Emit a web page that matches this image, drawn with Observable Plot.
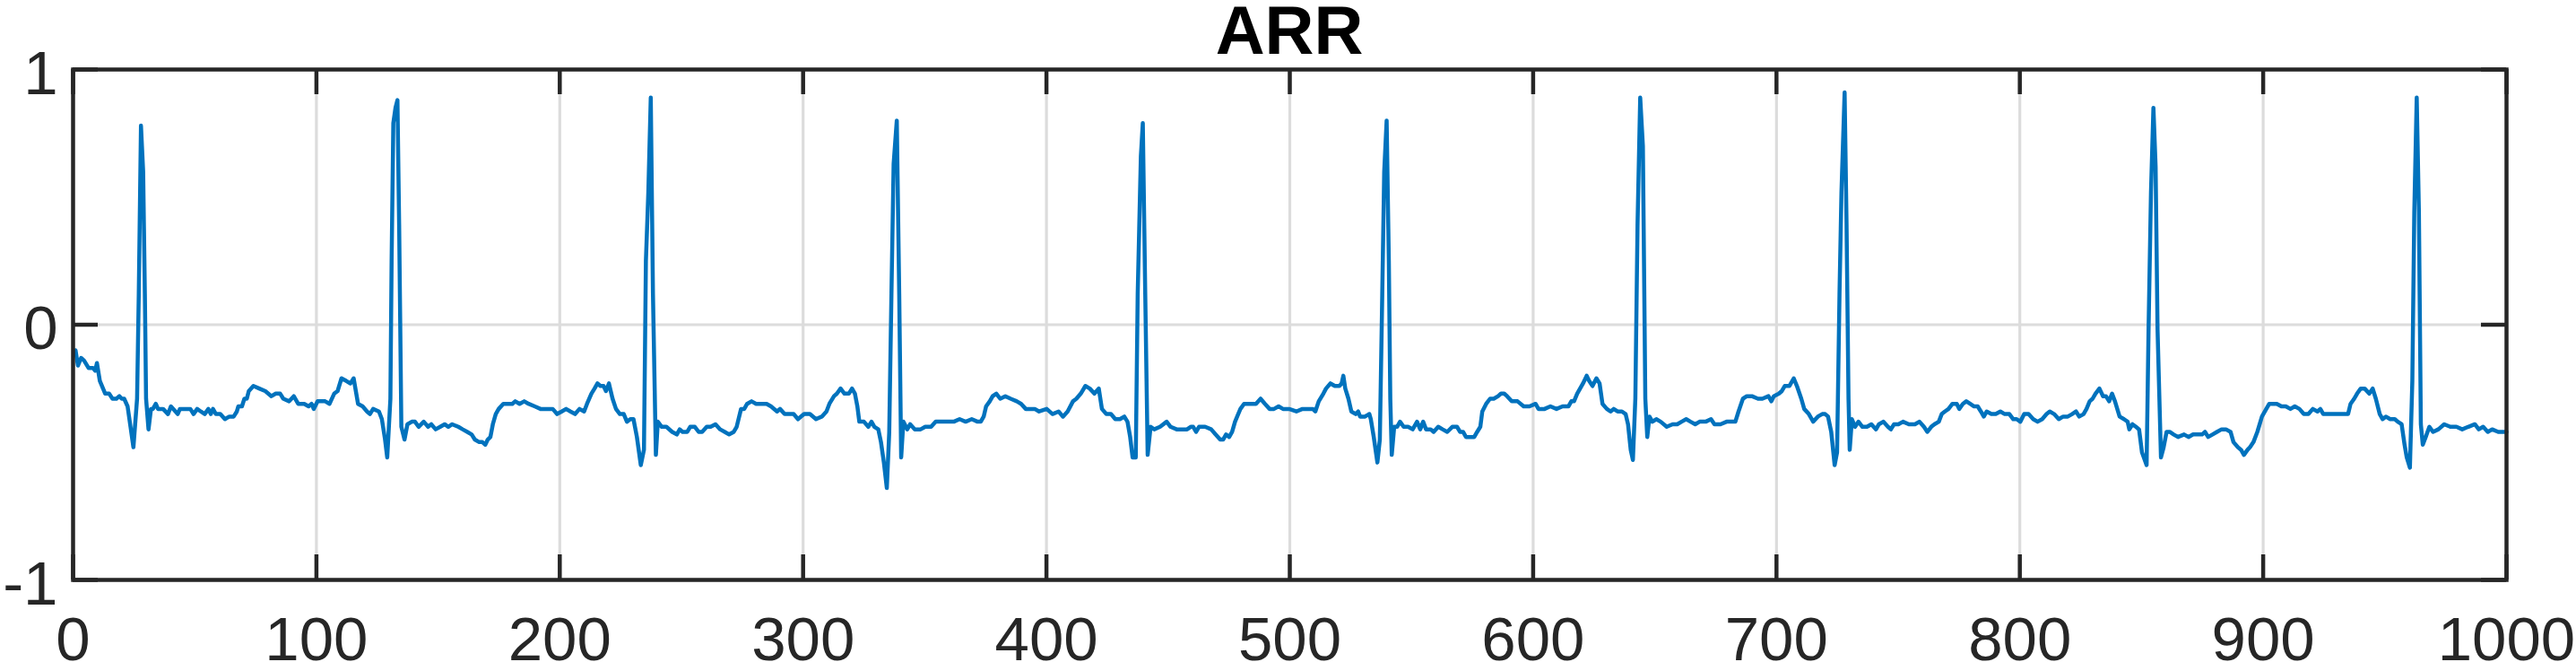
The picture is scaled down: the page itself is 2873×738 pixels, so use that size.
<!DOCTYPE html>
<html><head><meta charset="utf-8">
<script src="https://cdn.jsdelivr.net/npm/d3@7"></script>
<script src="https://cdn.jsdelivr.net/npm/@observablehq/plot@0.6"></script>
<style>
html,body{margin:0;padding:0;background:#fff;overflow:hidden;}
#title{position:relative;top:4px;height:60px;line-height:60px;font-family:"Liberation Sans",Arial,Helvetica,sans-serif;font-weight:bold;font-size:76px;color:#000;text-align:center;padding-left:81px;padding-right:78px;box-sizing:border-box;width:2873px;white-space:nowrap;overflow:visible;}
#chart{height:678px;}
</style></head><body>
<div id="title"></div>
<div id="chart"></div>
<script>
const chartTitle = "ARR";
const xTicks = [0,100,200,300,400,500,600,700,800,900,1000];
const yTicks = [-1,0,1];

const sampleIndex = [
1,2,3.3,4.5,6.4,8.2,9.1,9.8,11,13.2,14.8,16.2,17.8,19,20,21,22.4,23.6,24.8,26.3,27,27.9,28.8,29.5,30,31,32,32.8,34,34.9,37,39,40.2,43,43.9,46.4,48.2,49.5,51,52.5,54.1,55.6,56.6,57.5,58.7,60.5,62.4,64.2,66,67.3,67.9,69.4,70.4,71.4,72.2,74.1,76.5,79,81.5,83.3,85.1,86.4,88.8,90.7,92.5,95,96.8,98,98.9,100.5,
103.6,105.4,107.3,108.7,110.3,112.2,114,115.3,117.1,119,120.8,122,123.3,125.7,126.9,128.2,129.1,130.4,130.9,131.6,132.5,133.3,134,134.9,136.2,137.4,139.2,140.5,142,144.1,145.9,147.2,149,150.9,152.7,154.2,155.8,158.3,160.1,162,163.8,165.1,166.9,168.2,169.4,170.4,171.5,172.5,173.7,174.9,176.8,178.6,180.5,181.7,183.5,185.4,187.2,189.7,192.1,194.6,197.1,198.9,200.8,202.6,
204.4,206.3,208.1,210,211.2,213,214.3,215.5,216.7,218,219,220.2,221.7,223.1,224.7,226.3,227.6,229,230.3,231.7,233.3,234.6,235.4,236.4,237.4,238.3,239.5,240.3,241.9,243.8,246.2,248.1,249.3,250.5,252.4,253.6,255.5,257.1,258.5,260.4,262,264,265.9,267.8,269.6,271.5,272.7,274.5,275.8,277,278.8,280.7,282.5,285,286.8,289.3,290.5,292.4,294.2,296.1,297.9,300.4,302.8,305.3,
307.7,309.6,310.8,312.7,313.9,315.4,317,318.8,320.1,321.3,322.3,323.1,325,326.8,328.1,329.3,330.9,332,333.2,334.4,335.4,336.3,337.2,338.5,339.5,340.3,341.2,342.8,344,345.9,348.3,350.2,352.6,354.5,356.9,359.4,361.9,364.3,366.8,369.3,371.7,373,374.2,375.2,376.7,377.9,379.4,381,383.1,385.3,387.8,389.6,391.5,393.3,395.2,397,400.1,402.5,405,406.8,408.7,410.9,
412.3,414.1,416,417.8,419.7,421.5,422.8,424.6,426.5,428.3,430.2,432,433.3,434.4,435.4,436.7,437.5,438.8,439.6,440.6,441.6,442.8,444.3,446.7,449.4,451,453.5,455.9,457.8,459.3,460.3,461.5,462.7,465.2,467.7,469.5,471.4,472.6,473.8,475.1,476.3,477.5,478.8,479.7,481.2,483.7,486.1,488,489.8,491.7,493.5,495.4,497.2,499.7,502.7,505.2,507.6,509.5,510.5,511.9,513.8,
514.9,516.7,518.5,520.4,521.3,522,522.8,524.1,525.3,527.1,528.1,528.9,530.8,532.7,533.3,534.5,536,537,538,538.8,539.8,540.7,541.3,541.9,542.9,544.1,545.3,546.8,548.6,550.5,552.3,553.6,554.8,556,557.9,559.1,561,562.8,564.7,566.8,568.7,570,571.2,572.4,573.9,575.8,577,578.3,579.1,580.7,582.3,583.8,585.6,586.8,588.1,589.3,591.2,593.6,596.1,598.5,601,602.2,604.7,607.1,609.6,612.1,614.5,615.7,
616.8,618.1,619.3,620.5,622,623,624.4,626,627.3,628.5,630.3,631.8,633.1,634.7,636.5,638,639,640.1,641,642,642.9,644,645.1,646.1,646.9,647.8,649,650.6,652.4,654.9,657.3,659.2,661,662.9,664.7,666.6,668.4,670.9,673.1,674.5,677,679.5,681.3,683.1,684.4,686.2,687.8,689.9,692.4,694.2,696.7,697.9,698.9,701,702.2,703.4,705.3,707.1,708.4,710.2,711.4,713.3,715.1,717,718.8,
720,721.2,722.5,723.9,724.9,725.9,726.7,728,728.8,729.6,730.1,731,732.3,733.7,735.3,737.2,739,740.9,742.1,743.9,745.8,747,748.3,750.1,752,754.4,756.9,758.7,760.6,762,763.6,764.9,766.7,767.9,769.2,770.7,772.3,774.1,775.1,776.6,778,779.6,781.2,782.7,784,785.2,786.4,788.3,790.1,792,793.8,795.7,797.3,798.7,800.2,801.8,803.6,805.5,807.3,809.2,811,812.3,814.1,816,817.8,819.7,821.5,
823.1,824.4,826.2,827.4,828.7,829.9,831.1,832.7,834.2,835.4,836.7,837.9,839.1,841,842.8,844.3,845,846.3,847.7,849,850.2,852.1,852.9,853.9,854.9,855.8,856.6,858,859.1,860.3,861.6,863.2,865,867.5,869.3,871.2,873,874.9,876.1,877.4,879.2,881,882.9,884.7,886.6,887.8,889.6,890.9,892.1,893.6,894.6,896,897.6,899.5,900.7,902.5,903.8,905.6,907.5,909.3,911.2,913,914.9,916.7,918.6,920.4,922.3,923.5,924.7,
926.3,928.1,930,932.4,934.9,935.9,937.4,938.6,940.1,941.7,943.6,945,946.3,947.9,949.1,950.4,952.2,954.1,955.3,956.9,958.1,959,960.3,961.3,962.1,963.1,964,964.8,965.6,966.8,968.3,969.8,972,974.4,976.9,979.4,981.8,984.3,987,988.6,990.4,992.3,994.1,996.6,998.4,1000
];

const amplitude = [
-0.10,-0.16,-0.13,-0.14,-0.17,-0.17,-0.18,-0.15,-0.22,-0.27,-0.27,-0.29,-0.29,-0.28,-0.29,-0.29,-0.32,-0.40,-0.48,-0.29,0.12,0.78,0.60,0.12,-0.29,-0.41,-0.33,-0.33,-0.31,-0.33,-0.33,-0.35,-0.32,-0.35,-0.33,-0.33,-0.33,-0.35,-0.33,-0.34,-0.35,-0.33,-0.35,-0.33,-0.35,-0.35,-0.37,-0.36,-0.36,-0.34,-0.32,-0.32,-0.29,-0.29,-0.26,-0.24,-0.25,-0.26,-0.28,-0.27,-0.27,-0.29,-0.30,-0.28,-0.31,-0.31,-0.32,-0.31,-0.33,-0.30,
-0.30,-0.31,-0.27,-0.26,-0.21,-0.22,-0.23,-0.21,-0.31,-0.32,-0.34,-0.35,-0.33,-0.34,-0.37,-0.45,-0.52,-0.29,0.25,0.79,0.85,0.88,0.39,-0.40,-0.45,-0.39,-0.38,-0.38,-0.40,-0.38,-0.40,-0.39,-0.41,-0.40,-0.39,-0.40,-0.39,-0.40,-0.41,-0.42,-0.43,-0.45,-0.46,-0.46,-0.47,-0.45,-0.44,-0.39,-0.35,-0.33,-0.31,-0.31,-0.31,-0.30,-0.31,-0.30,-0.31,-0.32,-0.33,-0.33,-0.33,-0.35,-0.34,-0.33,
-0.34,-0.35,-0.33,-0.34,-0.31,-0.27,-0.25,-0.23,-0.24,-0.24,-0.26,-0.23,-0.29,-0.33,-0.35,-0.35,-0.38,-0.37,-0.37,-0.44,-0.55,-0.49,0.25,0.52,0.89,0.12,-0.51,-0.38,-0.40,-0.40,-0.42,-0.43,-0.41,-0.42,-0.42,-0.40,-0.40,-0.42,-0.42,-0.40,-0.40,-0.39,-0.41,-0.42,-0.43,-0.42,-0.40,-0.33,-0.33,-0.31,-0.30,-0.31,-0.31,-0.31,-0.32,-0.34,-0.33,-0.35,-0.35,-0.35,-0.37,-0.35,-0.35,-0.37,
-0.36,-0.34,-0.31,-0.28,-0.27,-0.25,-0.27,-0.27,-0.25,-0.27,-0.32,-0.38,-0.38,-0.40,-0.38,-0.40,-0.41,-0.46,-0.54,-0.64,-0.42,0.12,0.63,0.80,0.12,-0.52,-0.38,-0.41,-0.39,-0.41,-0.41,-0.40,-0.40,-0.38,-0.38,-0.38,-0.38,-0.37,-0.38,-0.37,-0.38,-0.38,-0.36,-0.32,-0.30,-0.28,-0.27,-0.29,-0.28,-0.29,-0.30,-0.31,-0.33,-0.33,-0.33,-0.34,-0.33,-0.35,-0.34,-0.36,-0.34,-0.30,
-0.29,-0.27,-0.24,-0.25,-0.27,-0.25,-0.33,-0.35,-0.35,-0.37,-0.37,-0.36,-0.38,-0.44,-0.52,-0.52,0.12,0.66,0.79,0.12,-0.51,-0.40,-0.41,-0.40,-0.38,-0.40,-0.41,-0.41,-0.41,-0.40,-0.40,-0.42,-0.40,-0.40,-0.41,-0.43,-0.45,-0.45,-0.43,-0.44,-0.42,-0.38,-0.35,-0.33,-0.31,-0.31,-0.31,-0.29,-0.31,-0.33,-0.33,-0.32,-0.33,-0.33,-0.34,-0.33,-0.33,-0.33,-0.34,-0.30,-0.27,
-0.25,-0.23,-0.24,-0.24,-0.23,-0.20,-0.25,-0.29,-0.34,-0.35,-0.34,-0.36,-0.36,-0.35,-0.37,-0.44,-0.54,-0.45,0.12,0.60,0.80,0.25,-0.29,-0.51,-0.40,-0.40,-0.38,-0.40,-0.40,-0.41,-0.38,-0.41,-0.38,-0.41,-0.41,-0.42,-0.40,-0.41,-0.42,-0.40,-0.40,-0.42,-0.42,-0.44,-0.44,-0.44,-0.42,-0.40,-0.34,-0.31,-0.29,-0.29,-0.28,-0.27,-0.27,-0.28,-0.30,-0.30,-0.32,-0.32,-0.31,-0.33,-0.33,-0.32,-0.33,-0.32,-0.32,-0.30,
-0.30,-0.27,-0.25,-0.23,-0.20,-0.22,-0.24,-0.21,-0.23,-0.31,-0.33,-0.34,-0.33,-0.34,-0.34,-0.35,-0.39,-0.49,-0.53,-0.29,0.39,0.89,0.70,-0.29,-0.44,-0.36,-0.38,-0.37,-0.38,-0.40,-0.39,-0.39,-0.38,-0.37,-0.38,-0.39,-0.38,-0.38,-0.37,-0.39,-0.39,-0.38,-0.38,-0.38,-0.34,-0.29,-0.28,-0.28,-0.29,-0.29,-0.28,-0.30,-0.28,-0.27,-0.26,-0.24,-0.24,-0.21,-0.24,-0.29,-0.33,-0.35,-0.38,-0.36,-0.35,
-0.35,-0.36,-0.42,-0.55,-0.50,0.12,0.52,0.91,0.39,-0.29,-0.49,-0.37,-0.40,-0.38,-0.40,-0.40,-0.39,-0.41,-0.39,-0.38,-0.40,-0.41,-0.39,-0.39,-0.38,-0.39,-0.39,-0.38,-0.40,-0.42,-0.40,-0.39,-0.38,-0.35,-0.34,-0.33,-0.31,-0.31,-0.33,-0.31,-0.30,-0.31,-0.32,-0.32,-0.34,-0.36,-0.34,-0.35,-0.35,-0.34,-0.35,-0.35,-0.37,-0.37,-0.38,-0.35,-0.35,-0.37,-0.38,-0.37,-0.35,-0.34,-0.35,-0.37,-0.36,-0.36,-0.35,
-0.34,-0.36,-0.35,-0.33,-0.30,-0.29,-0.27,-0.25,-0.28,-0.28,-0.30,-0.27,-0.30,-0.36,-0.37,-0.38,-0.41,-0.39,-0.40,-0.41,-0.50,-0.55,-0.02,0.52,0.85,0.62,-0.02,-0.52,-0.48,-0.42,-0.42,-0.43,-0.44,-0.43,-0.44,-0.43,-0.43,-0.43,-0.42,-0.44,-0.43,-0.42,-0.41,-0.41,-0.42,-0.46,-0.48,-0.49,-0.51,-0.49,-0.48,-0.46,-0.42,-0.36,-0.34,-0.31,-0.31,-0.31,-0.32,-0.32,-0.33,-0.32,-0.33,-0.35,-0.35,-0.33,-0.34,-0.33,-0.35,
-0.35,-0.35,-0.35,-0.35,-0.35,-0.31,-0.29,-0.27,-0.25,-0.25,-0.27,-0.25,-0.29,-0.35,-0.37,-0.36,-0.37,-0.37,-0.38,-0.39,-0.47,-0.52,-0.56,-0.22,0.44,0.89,0.44,-0.39,-0.47,-0.44,-0.40,-0.42,-0.41,-0.39,-0.40,-0.40,-0.41,-0.40,-0.39,-0.41,-0.40,-0.42,-0.41,-0.42,-0.42,-0.42
];

document.getElementById("title").textContent = chartTitle;

const data = sampleIndex.map((x, i) => ({sample: x, value: amplitude[i]}));

const W = 2873, H = 678, mL = 81, mR = 78, mT = 17, mB = 92;
const innerW = W - mL - mR, innerH = H - mT - mB;
const tickLen = 28;
const axisColor = "#262626";
const gridColor = "#dcdcdc";

const chart = Plot.plot({
  width: W, height: H,
  marginLeft: mL, marginRight: mR, marginTop: mT, marginBottom: mB,
  style: {fontFamily: '"Liberation Sans", Arial, Helvetica, sans-serif', fontSize: "69px", color: axisColor, background: "white", overflow: "visible"},
  x: {domain: [0, 1000], label: null},
  y: {domain: [-1, 1], label: null},
  marks: [
    Plot.ruleX(xTicks, {stroke: gridColor, strokeWidth: 3.2}),
    Plot.ruleY(yTicks, {stroke: gridColor, strokeWidth: 3.2}),
    Plot.line(data, {x: "sample", y: "value", stroke: "#0072BD", strokeWidth: 4.5, strokeLinejoin: "round", strokeLinecap: "round"}),
    Plot.ruleX(xTicks, {stroke: axisColor, strokeWidth: 4.5, insetTop: innerH - tickLen}),
    Plot.ruleX(xTicks, {stroke: axisColor, strokeWidth: 4.5, insetBottom: innerH - tickLen}),
    Plot.ruleY(yTicks, {stroke: axisColor, strokeWidth: 4.5, insetRight: innerW - tickLen}),
    Plot.ruleY(yTicks, {stroke: axisColor, strokeWidth: 4.5, insetLeft: innerW - tickLen}),
    Plot.frame({stroke: axisColor, strokeWidth: 4.5}),
    Plot.axisX(xTicks, {tickSize: 0, tickPadding: 40, tickFormat: d => String(d), fontSize: 69, fill: axisColor, label: null}),
    Plot.axisY(yTicks, {tickSize: 0, tickPadding: 17, tickFormat: d => String(d), fontSize: 69, fill: axisColor, dy: 5, label: null})
  ]
});
document.getElementById("chart").appendChild(chart);
</script>
</body></html>
